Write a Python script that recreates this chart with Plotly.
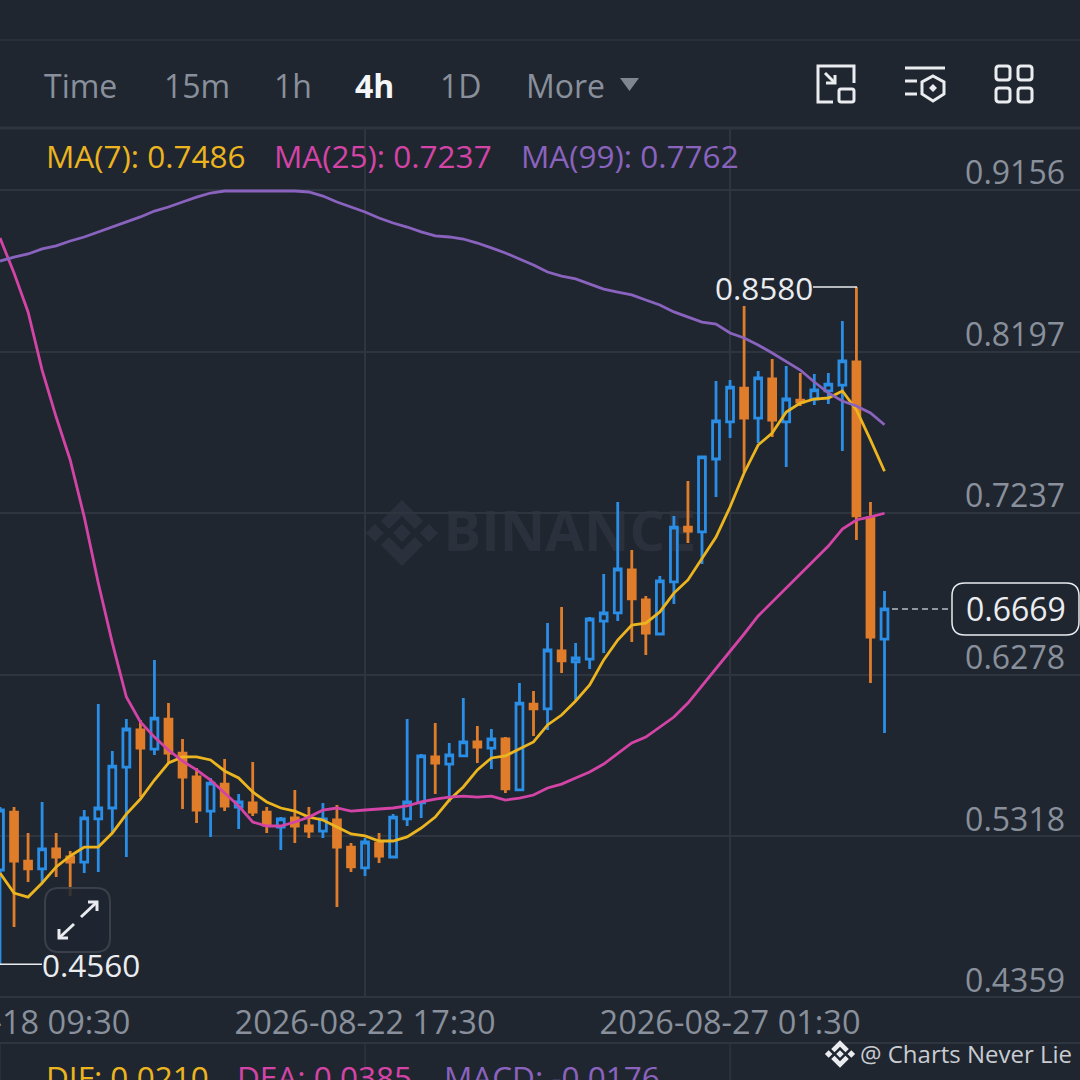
"""
4h candles with MA lines, Binance app style
"""
import pandas as pd
import plotly.graph_objs as go

BG = '#1f2630'
GRID = '#2f353f'
BLUE = '#2a8ee6'
ORANGE = '#e07d2b'
YELLOW = '#ecb41f'
PINK = '#d444a6'
PURPLE = '#8a63be'
GREY = '#89909b'
LIGHT = '#eaecef'
FONT = 'Open Sans'

START = '2026-08-18 09:30'
RANGE_END = '2026-08-31 05:12'

OPEN = [
    0.5119, 0.5463, 0.5172, 0.5125, 0.5244, 0.5196, 0.5166, 0.5422,
    0.5487, 0.5730, 0.5950, 0.5837, 0.6015, 0.5813, 0.5671, 0.5469,
    0.5629, 0.5493, 0.5517, 0.5463, 0.5374, 0.5428, 0.5380, 0.5350,
    0.5416, 0.5255, 0.5131, 0.5279, 0.5196, 0.5422, 0.5517, 0.5790,
    0.5748, 0.5796, 0.5879, 0.5843, 0.5897, 0.5594, 0.6104, 0.6075,
    0.6419, 0.6354, 0.6371, 0.6597, 0.6645, 0.6900, 0.6722, 0.6520,
    0.6829, 0.7155, 0.7126, 0.7559, 0.7779, 0.7980, 0.7802, 0.8034,
    0.7779, 0.7909, 0.7915, 0.7963, 0.7998, 0.8135, 0.7209, 0.6490,
]
HIGH = [
    0.5493, 0.5493, 0.5338, 0.5523, 0.5338, 0.5232, 0.5475, 0.6104,
    0.5825, 0.6015, 0.6009, 0.6366, 0.6110, 0.5897, 0.5724, 0.5665,
    0.5778, 0.5570, 0.5760, 0.5493, 0.5433, 0.5594, 0.5493, 0.5517,
    0.5505, 0.5279, 0.5309, 0.5338, 0.5451, 0.6015, 0.5807, 0.5992,
    0.5873, 0.6140, 0.5974, 0.5956, 0.5908, 0.6229, 0.6182, 0.6585,
    0.6680, 0.6467, 0.6621, 0.6876, 0.7304, 0.7019, 0.6746, 0.6864,
    0.7221, 0.7428, 0.7577, 0.8022, 0.8028, 0.8467, 0.8081, 0.8153,
    0.8111, 0.8069, 0.8064, 0.8069, 0.8378, 0.8580, 0.7304, 0.6775,
]
LOW = [
    0.4560, 0.4780, 0.5048, 0.5048, 0.5077, 0.4964, 0.5101, 0.5107,
    0.5344, 0.5196, 0.5552, 0.5802, 0.5760, 0.5481, 0.5398, 0.5315,
    0.5469, 0.5362, 0.5439, 0.5338, 0.5238, 0.5279, 0.5309, 0.5309,
    0.4899, 0.5107, 0.5083, 0.5160, 0.5190, 0.5380, 0.5428, 0.5570,
    0.5523, 0.5796, 0.5754, 0.5718, 0.5576, 0.5594, 0.5914, 0.5950,
    0.6288, 0.6128, 0.6312, 0.6407, 0.6597, 0.6472, 0.6395, 0.6520,
    0.6698, 0.7060, 0.6936, 0.7333, 0.7684, 0.7482, 0.7654, 0.7690,
    0.7511, 0.7874, 0.7880, 0.7885, 0.7606, 0.7078, 0.6229, 0.5932,
]
CLOSE = [
    0.5475, 0.5172, 0.5125, 0.5244, 0.5196, 0.5166, 0.5428, 0.5487,
    0.5736, 0.5956, 0.5843, 0.6021, 0.5813, 0.5671, 0.5475, 0.5635,
    0.5499, 0.5523, 0.5463, 0.5386, 0.5422, 0.5380, 0.5350, 0.5422,
    0.5255, 0.5137, 0.5285, 0.5202, 0.5433, 0.5523, 0.5796, 0.5754,
    0.5802, 0.5879, 0.5849, 0.5897, 0.5600, 0.6110, 0.6075, 0.6425,
    0.6360, 0.6378, 0.6609, 0.6645, 0.6906, 0.6728, 0.6526, 0.6835,
    0.7155, 0.7131, 0.7571, 0.7785, 0.7986, 0.7802, 0.8040, 0.7790,
    0.7915, 0.7897, 0.7969, 0.8004, 0.8141, 0.7221, 0.6502, 0.6669,
]
MA7 = [
    0.5101, 0.4982, 0.4958, 0.5042, 0.5137, 0.5202, 0.5255, 0.5255,
    0.5338, 0.5451, 0.5540, 0.5653, 0.5754, 0.5790, 0.5790, 0.5772,
    0.5707, 0.5665, 0.5582, 0.5523, 0.5487, 0.5469, 0.5433, 0.5416,
    0.5374, 0.5333, 0.5321, 0.5291, 0.5291, 0.5315, 0.5368, 0.5433,
    0.5534, 0.5612, 0.5713, 0.5784, 0.5796, 0.5837, 0.5879, 0.5980,
    0.6039, 0.6122, 0.6217, 0.6366, 0.6484, 0.6573, 0.6585, 0.6651,
    0.6763, 0.6841, 0.6971, 0.7096, 0.7274, 0.7476, 0.7642, 0.7713,
    0.7838, 0.7891, 0.7915, 0.7921, 0.7963, 0.7850, 0.7672, 0.7486,
]
MA25 = [
    0.8871, 0.8663, 0.8432, 0.8087, 0.7808, 0.7553, 0.7215, 0.6823,
    0.6467, 0.6146, 0.5998, 0.5908, 0.5831, 0.5766, 0.5713, 0.5653,
    0.5576, 0.5499, 0.5404, 0.5380, 0.5380, 0.5404, 0.5433, 0.5475,
    0.5487, 0.5469, 0.5475, 0.5481, 0.5487, 0.5499, 0.5523, 0.5540,
    0.5552, 0.5558, 0.5552, 0.5558, 0.5534, 0.5546, 0.5564, 0.5606,
    0.5629, 0.5665, 0.5701, 0.5748, 0.5813, 0.5873, 0.5908, 0.5968,
    0.6027, 0.6110, 0.6211, 0.6312, 0.6413, 0.6520, 0.6627, 0.6710,
    0.6793, 0.6876, 0.6959, 0.7042, 0.7143, 0.7197, 0.7215, 0.7237,
]
MA99 = [
    0.8734, 0.8758, 0.8776, 0.8806, 0.8824, 0.8853, 0.8877, 0.8907,
    0.8936, 0.8966, 0.8996, 0.9031, 0.9055, 0.9085, 0.9114, 0.9138,
    0.9150, 0.9150, 0.9150, 0.9150, 0.9150, 0.9150, 0.9144, 0.9120,
    0.9085, 0.9055, 0.9025, 0.8990, 0.8960, 0.8936, 0.8907, 0.8883,
    0.8877, 0.8865, 0.8841, 0.8812, 0.8782, 0.8746, 0.8711, 0.8669,
    0.8645, 0.8628, 0.8598, 0.8568, 0.8550, 0.8533, 0.8503, 0.8473,
    0.8432, 0.8402, 0.8372, 0.8360, 0.8307, 0.8277, 0.8236, 0.8188,
    0.8135, 0.8087, 0.8016, 0.7951, 0.7903, 0.7874, 0.7832, 0.7762,
]

Y_TICKS = [0.9156, 0.8197, 0.7237, 0.6278, 0.5318, 0.4359]
Y_RANGE = [0.4359, 0.9524]
X_TICKS = ['2026-08-18 09:30', '2026-08-22 17:30', '2026-08-27 01:30']
LAST_PRICE = 0.6669
HIGH_LABEL = 0.8580
LOW_LABEL = 0.4560
INTERVALS = [('Time', 42, GREY), ('15m', 162, GREY), ('1h', 272, GREY), ('1D', 438, GREY), ('More', 524, GREY)]
MA_LABELS = [('MA(7): 0.7486', 44, YELLOW), ('MA(25): 0.7237', 272, PINK), ('MA(99): 0.7762', 519, PURPLE)]
MACD_LABELS = [('DIF: 0.0210', 44, YELLOW), ('DEA: 0.0385', 235, PINK), ('MACD: -0.0176', 442, PURPLE)]


def fx(px):
    return px / 1080


def fy(py):
    return 1 - py / 1080


def poly(points, close=False):
    """SVG path in paper units from page pixels"""
    path = 'M' + ' L'.join(f'{fx(x):.5f},{fy(y):.5f}' for x, y in points)
    return path + ' Z' if close else path


def round_rect(x0, y0, x1, y1, r):
    """Rounded rectangle path in paper units"""
    def p(x, y):
        return f'{fx(x):.5f},{fy(y):.5f}'
    return (
        f'M{p(x0 + r, y0)} L{p(x1 - r, y0)} Q{p(x1, y0)} {p(x1, y0 + r)} '
        f'L{p(x1, y1 - r)} Q{p(x1, y1)} {p(x1 - r, y1)} '
        f'L{p(x0 + r, y1)} Q{p(x0, y1)} {p(x0, y1 - r)} '
        f'L{p(x0, y0 + r)} Q{p(x0, y0)} {p(x0 + r, y0)} Z'
    )


def logo(cx, cy, s):
    """Five part diamond mark"""
    def pts(items):
        return [(cx + x * s, cy + y * s) for x, y in items]
    paths = [
        poly(pts([(0, -33), (21, -12), (13, -4), (0, -17), (-13, -4), (-21, -12)]), True),
        poly(pts([(0, 33), (21, 12), (13, 4), (0, 17), (-13, 4), (-21, 12)]), True),
        poly(pts([(0, -9), (9, 0), (0, 9), (-9, 0)]), True),
        poly(pts([(-27, -9), (-18, 0), (-27, 9), (-36, 0)]), True),
        poly(pts([(27, -9), (36, 0), (27, 9), (18, 0)]), True),
    ]
    return ' '.join(paths)


def hline(y, width=1.5):
    return dict(type='line', xref='paper', yref='paper', x0=0, x1=1, y0=fy(y), y1=fy(y),
                line=dict(color=GRID, width=width))


def stroke(path, width=3, color=LIGHT, fill=None, layer='above'):
    shape = dict(type='path', xref='paper', yref='paper', path=path, layer=layer,
                 line=dict(color=color, width=width))
    if fill:
        shape['fillcolor'] = fill
    return shape


def text(label, x, y, color, size=31.5, xanchor='left', weight=400, yref='paper'):
    return dict(text=label, x=fx(x), y=y, xref='paper', yref=yref, showarrow=False,
                xanchor=xanchor, yanchor='middle', align='left',
                font=dict(family=FONT, size=size, color=color, weight=weight))


dates = pd.date_range(START, periods=len(CLOSE), freq='4h')

fig = go.Figure()
fig.add_trace(go.Candlestick(
    x=dates, open=OPEN, high=HIGH, low=LOW, close=CLOSE,
    increasing=dict(line=dict(color=BLUE, width=2.8), fillcolor='rgba(0,0,0,0)'),
    decreasing=dict(line=dict(color=ORANGE, width=2.8), fillcolor=ORANGE),
    showlegend=False, hoverinfo='skip',
))
for values, color in ((MA7, YELLOW), (MA25, PINK), (MA99, PURPLE)):
    fig.add_trace(go.Scatter(
        x=dates, y=values, mode='lines', showlegend=False, hoverinfo='skip',
        line=dict(color=color, width=2.8),
    ))

shapes = [hline(40), hline(128, 3), hline(997, 2), hline(1043, 2)]

# MACD panel grid under the time axis
for tick in X_TICKS:
    shapes.append(dict(type='line', xref='x', yref='paper', x0=tick, x1=tick,
                       y0=fy(1043), y1=0, line=dict(color=GRID, width=1.5)))

# watermark
shapes.append(dict(type='path', xref='paper', yref='paper', path=logo(402, 533, 1),
                   fillcolor='#2b313c', line_width=0, layer='below'))
shapes.append(dict(type='rect', xref='paper', yref='paper', x0=fx(440), x1=fx(700),
                   y0=fy(560), y1=fy(506), line_width=0, layer='below',
                   label=dict(text='BINANCE', textposition='middle center',
                              font=dict(family=FONT, size=56, color='#2b313c', weight=700))))

# last price
shapes.append(dict(type='line', xref='paper', yref='y', x0=fx(892), x1=fx(952),
                   y0=LAST_PRICE, y1=LAST_PRICE, line=dict(color='#b9bcc2', width=1.5, dash='6px,4px')))
shapes.append(stroke(round_rect(952, 583, 1079, 635, 13), 1.5, LIGHT, BG))

# high and low leaders
shapes.append(dict(type='line', xref='paper', yref='y', x0=fx(813), x1=fx(857),
                   y0=HIGH_LABEL, y1=HIGH_LABEL, line=dict(color=LIGHT, width=1.5)))
shapes.append(dict(type='line', xref='paper', yref='y', x0=0, x1=fx(42),
                   y0=LOW_LABEL, y1=LOW_LABEL, line=dict(color=LIGHT, width=1.5)))

# expand button
shapes.append(stroke(round_rect(45, 888, 110, 952, 14), 2, '#3a404a', 'rgba(31,38,48,0.85)'))
shapes.append(stroke(poly([(81, 917), (97, 902)]), 3))
shapes.append(stroke(poly([(88, 902), (97, 902), (97, 911)]), 3))
shapes.append(stroke(poly([(74, 924), (59, 938)]), 3))
shapes.append(stroke(poly([(59, 929), (59, 938), (68, 938)]), 3))

# toolbar icons
shapes.append(stroke(poly([(833, 102), (818, 102), (818, 66), (854, 66), (854, 83)])))
shapes.append(stroke(round_rect(839, 89, 854, 102, 2)))
shapes.append(stroke(poly([(825, 73), (835, 83)])))
shapes.append(stroke(poly([(835, 75), (835, 83), (826, 83)])))
shapes.append(stroke(poly([(905, 68), (945, 68)])))
shapes.append(stroke(poly([(905, 81), (917, 81)])))
shapes.append(stroke(poly([(905, 94), (917, 94)])))
shapes.append(stroke(poly([(933, 76), (944, 82), (944, 94), (933, 101), (922, 94), (922, 82)], True)))
shapes.append(dict(type='path', xref='paper', yref='paper', fillcolor=LIGHT, line_width=0,
                   path=poly([(933, 84), (937, 88), (933, 92), (929, 88)], True)))
for x0 in (996, 1018):
    for y0 in (66, 88):
        shapes.append(stroke(round_rect(x0, y0, x0 + 14, y0 + 14, 3)))
shapes.append(dict(type='path', xref='paper', yref='paper', fillcolor='#80868f', line_width=0,
                   path=poly([(620, 78), (639, 78), (629.5, 91)], True)))

# credit mark
shapes.append(dict(type='path', xref='paper', yref='paper', path=logo(840, 1054, 0.42),
                   fillcolor=LIGHT, line_width=0))

annotations = [text(label, x, fy(86), color, size=32) for label, x, color in INTERVALS]
annotations.append(text('4h', 353, fy(86), '#f5f6f7', size=32, weight=700))
annotations += [text(label, x, fy(156), color) for label, x, color in MA_LABELS]
annotations += [text(label, x, fy(1076), color) for label, x, color in MACD_LABELS]
annotations.append(text('0.8580', 815, HIGH_LABEL, LIGHT, xanchor='right', yref='y'))
annotations.append(text('0.4560', 40, LOW_LABEL, LIGHT, yref='y'))
annotations.append(text('0.6669', 1016, LAST_PRICE, LIGHT, size=32, xanchor='center', yref='y'))
annotations.append(text('@ Charts Never Lie', 858, fy(1053), '#c9ccd1', size=24))

fig.update_layout(
    width=1080, height=1080,
    margin=dict(l=0, r=0, t=0, b=0, autoexpand=False),
    paper_bgcolor=BG,
    plot_bgcolor='rgba(0,0,0,0)',
    showlegend=False,
    shapes=shapes,
    annotations=annotations,
    xaxis=dict(
        type='date', range=[START, RANGE_END], domain=[0, 1], automargin=False,
        rangeslider=dict(visible=False),
        tickmode='array', tickvals=X_TICKS, ticktext=X_TICKS,
        tickfont=dict(family=FONT, size=32.5, color=GREY),
        ticks='', showgrid=True, gridcolor=GRID, gridwidth=1.5,
        zeroline=False, showline=False,
        ticklabeloverflow='allow', ticklabelstandoff=2,
    ),
    yaxis=dict(
        range=Y_RANGE, domain=[fy(998), fy(128)], side='right', automargin=False,
        tickmode='array', tickvals=Y_TICKS, ticktext=[f'{t:.4f}' for t in Y_TICKS],
        tickfont=dict(family=FONT, size=32, color=GREY),
        ticklabelposition='inside', ticklabeloverflow='allow',
        ticklabelshift=-17, ticklabelstandoff=12,
        ticks='', showgrid=True, gridcolor=GRID, gridwidth=1.5,
        zeroline=False, showline=False,
    ),
)

fig.write_html(
    'out.html',
    config={'displayModeBar': False},
    post_script="document.body.style.margin='0';document.body.style.overflow='hidden';",
)
